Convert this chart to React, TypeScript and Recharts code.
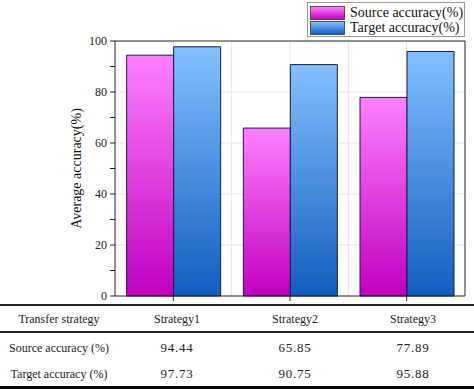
import { Bar, BarChart, CartesianGrid, Label, XAxis, YAxis } from "recharts";

const strategies = ["Strategy1", "Strategy2", "Strategy3"];
const sourceAccuracy = [94.44, 65.85, 77.89];
const targetAccuracy = [97.73, 90.75, 95.88];
const yTicks = [0, 10, 20, 30, 40, 50, 60, 70, 80, 90, 100];

const data = strategies.map((name, i) => ({
  name,
  source: sourceAccuracy[i],
  target: targetAccuracy[i],
}));

const serif = "'Liberation Serif', 'Times New Roman', serif";
const colCenters = [59, 177, 295, 413];

function LegendBox() {
  const items = [
    { label: "Source accuracy(%)", fill: "url(#gSource)" },
    { label: "Target accuracy(%)", fill: "url(#gTarget)" },
  ];
  return (
    <div
      style={{
        position: "absolute",
        top: 2,
        left: 307,
        width: 158,
        height: 35,
        border: "1px solid #999",
        background: "#fff",
        boxSizing: "border-box",
        padding: "2px 0 0 2px",
        fontSize: 14,
        lineHeight: "15px",
        color: "#111",
        whiteSpace: "nowrap",
      }}
    >
      {items.map((it) => (
        <div key={it.label} style={{ display: "flex", alignItems: "center", height: 15 }}>
          <svg width={36} height={14} style={{ marginRight: 4 }}>
            <rect x={0.5} y={0.5} width={34} height={13} fill={it.fill} stroke="#333" strokeWidth={0.8} />
          </svg>
          <span>{it.label}</span>
        </div>
      ))}
    </div>
  );
}

function Row({ top, cells, numeric }: { top: number; cells: string[]; numeric?: boolean }) {
  return (
    <>
      {cells.map((c, i) => (
        <div
          key={i}
          style={{
            position: "absolute",
            top,
            left: colCenters[i] - 60,
            width: 120,
            textAlign: "center",
            fontSize: numeric && i > 0 ? 13 : 12,
            letterSpacing: numeric && i > 0 ? 0.8 : 0,
            color: "#222",
            lineHeight: "14px",
          }}
        >
          {c}
        </div>
      ))}
    </>
  );
}

function YTick({ x, y, payload }: any) {
  if (payload.value % 20 !== 0) return null;
  return (
    <text x={x} y={y} dy={4} textAnchor="end" fontFamily={serif} fontSize={12} fill="#222">
      {payload.value}
    </text>
  );
}

export default function App() {
  return (
    <div
      style={{
        position: "fixed",
        left: 0,
        top: 0,
        width: 474,
        height: 389,
        background: "#fff",
        overflow: "hidden",
        fontFamily: serif,
      }}
    >
      <BarChart
        width={474}
        height={389}
        data={data}
        margin={{ top: 40, right: 8, bottom: 83, left: 55 }}
        barCategoryGap="10%"
        barGap={0}
      >
        <defs>
          <linearGradient id="gSource" x1="0" y1="0" x2="0" y2="1">
            <stop offset="0%" stopColor="#ff80ff" />
            <stop offset="100%" stopColor="#c000c0" />
          </linearGradient>
          <linearGradient id="gTarget" x1="0" y1="0" x2="0" y2="1">
            <stop offset="0%" stopColor="#82c0ff" />
            <stop offset="100%" stopColor="#125ec0" />
          </linearGradient>
        </defs>
        <CartesianGrid
          stroke="#e4e4e4"
          horizontalValues={[20, 40, 60, 80]}
          verticalCoordinatesGenerator={({ offset }: any) =>
            [1, 2, 3, 4, 5].map((k) => offset.left + (offset.width * k) / 6)
          }
        />
        <XAxis
          dataKey="name"
          height={10}
          tickFormatter={() => ""}
          tickSize={5}
          axisLine={{ stroke: "#222" }}
          tickLine={{ stroke: "#222" }}
        />
        <XAxis xAxisId="top" orientation="top" height={1} tick={false} axisLine={{ stroke: "#222" }} />
        <YAxis
          domain={[0, 100]}
          ticks={yTicks}
          width={60}
          interval={0}
          tickSize={5}
          tickMargin={3}
          tick={<YTick />}
          axisLine={{ stroke: "#222" }}
          tickLine={{ stroke: "#222" }}
        >
          <Label
            value="Average accuracy(%)"
            angle={-90}
            position="insideLeft"
            offset={21}
            style={{ textAnchor: "middle", fontFamily: serif, fontSize: 14, fill: "#111" }}
          />
        </YAxis>
        <YAxis yAxisId="right" orientation="right" width={1} tick={false} axisLine={{ stroke: "#222" }} />
        <Bar dataKey="source" fill="url(#gSource)" stroke="#1c1c40" strokeWidth={1} isAnimationActive={false} />
        <Bar dataKey="target" fill="url(#gTarget)" stroke="#1c1c40" strokeWidth={1} isAnimationActive={false} />
      </BarChart>
      <LegendBox />
      <div style={{ position: "absolute", left: 0, top: 304, width: 474, height: 2, background: "#222" }} />
      <Row top={312} cells={["Transfer strategy", ...strategies]} />
      <div style={{ position: "absolute", left: 0, top: 331, width: 474, height: 2, background: "#222" }} />
      <Row top={341} numeric cells={["Source accuracy (%)", ...sourceAccuracy.map((v) => v.toFixed(2))]} />
      <Row top={367} numeric cells={["Target accuracy (%)", ...targetAccuracy.map((v) => v.toFixed(2))]} />
      <div style={{ position: "absolute", left: 0, top: 386, width: 474, height: 3, background: "#000" }} />
    </div>
  );
}
